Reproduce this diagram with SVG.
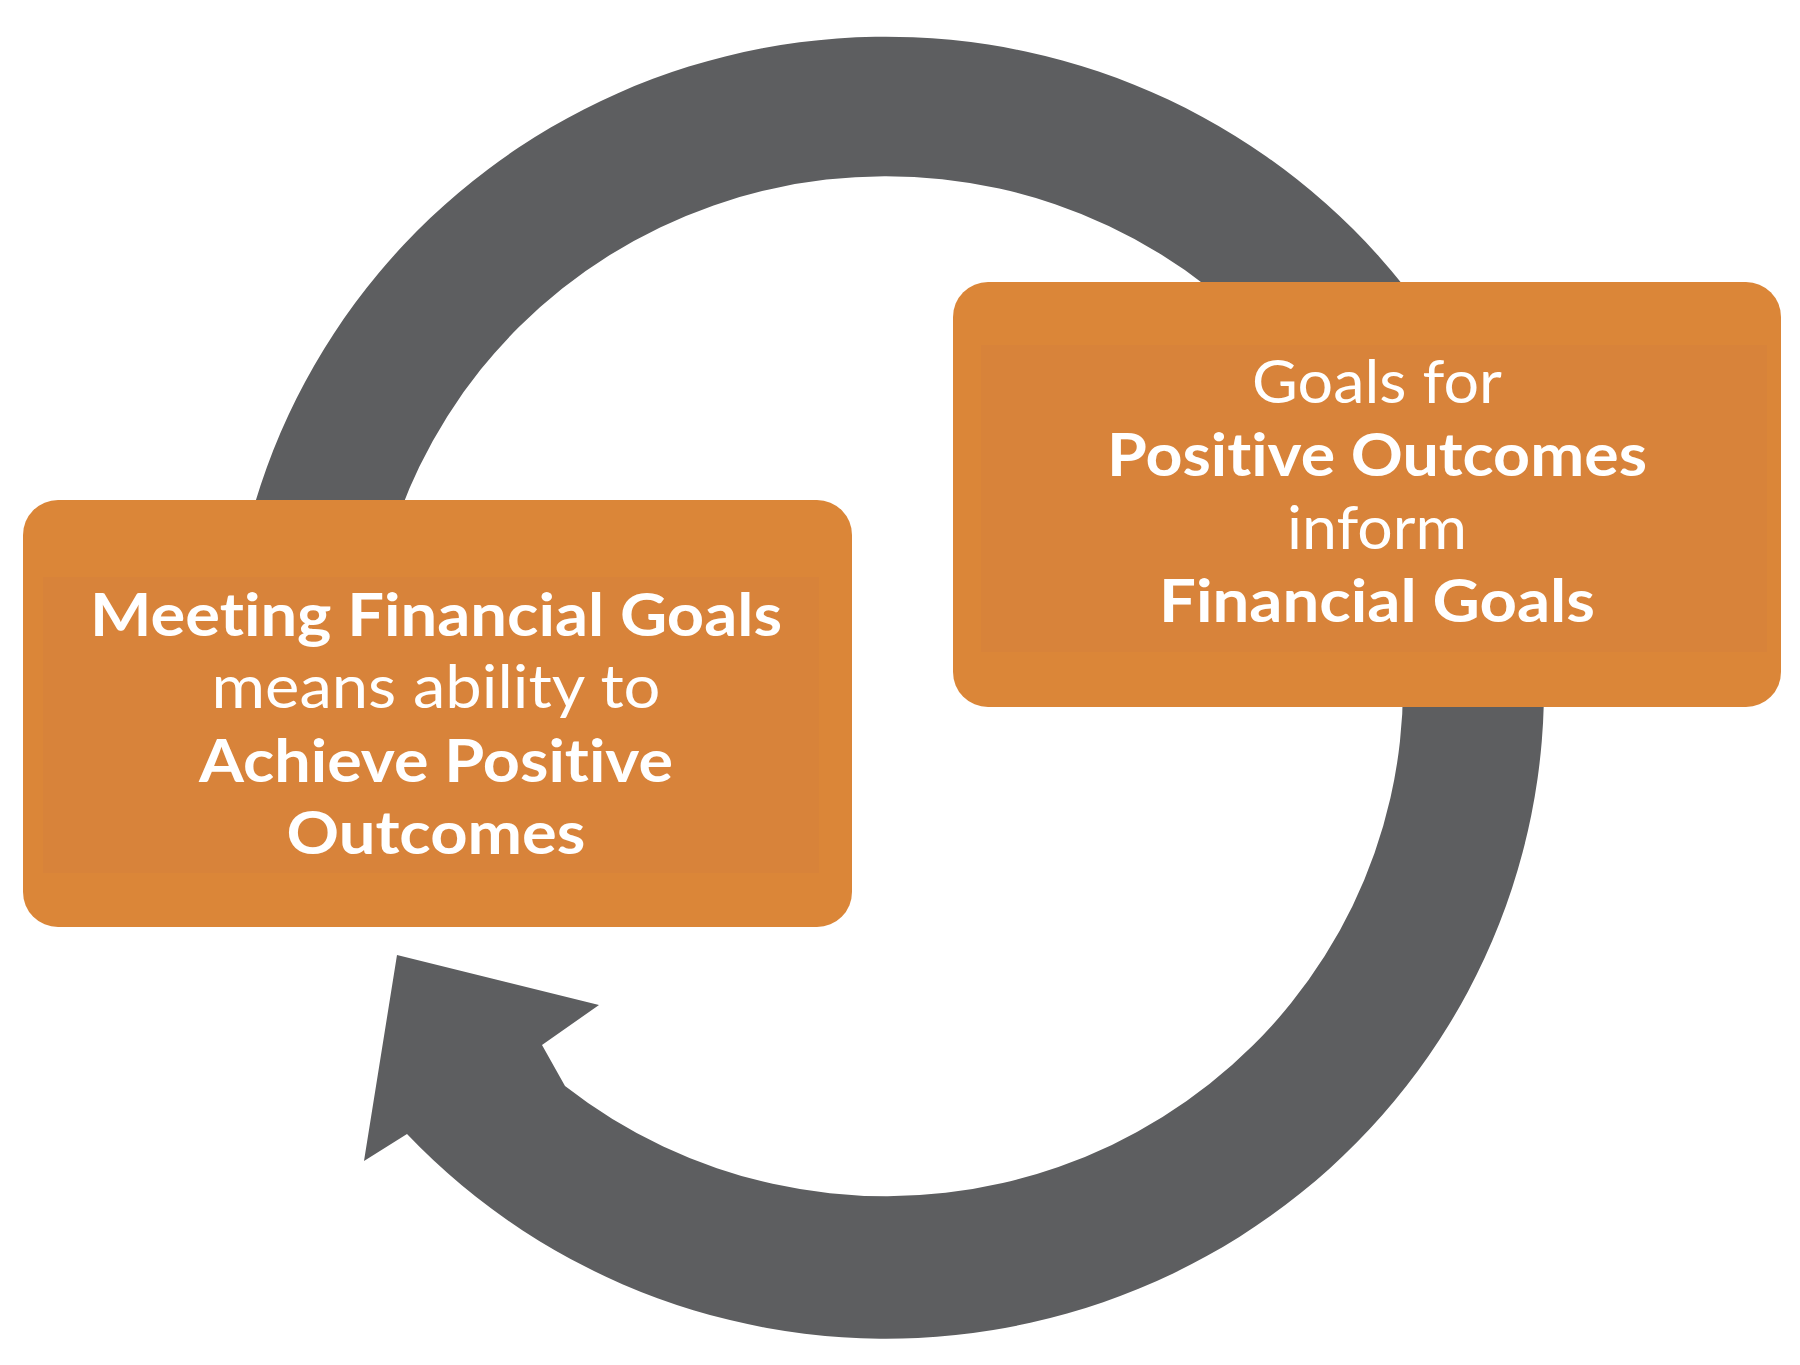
<svg xmlns="http://www.w3.org/2000/svg" width="1800" height="1365" viewBox="0 0 1800 1365">
  <style>
    .box { fill: #DB8638; }
    .inner { fill: #D8833A; }
    .t { font-family: Lato, "Open Sans", "Liberation Sans", sans-serif; font-size: 60px; fill: #FFFFFF; text-anchor: middle; font-variant-ligatures: none; font-feature-settings: "liga" 0, "clig" 0, "dlig" 0; }
    .b { font-weight: 700; }
    .r { font-weight: 400; }
    .ring { fill: #5D5E60; }
  </style>
  <rect width="1800" height="1365" fill="#FFFFFF"/>
  <g id="connectors">
    <path class="ring" d="M 228,688 A 658 651 0 1 1 407,1134 L 364,1161 L 397,955 L 599,1005 L 542,1045 L 565,1086 A 517 510 0 1 0 369,688 Z"/>
  </g>
  <g id="node-meeting">
    <rect class="box" x="23" y="500" width="829" height="427" rx="35" ry="35"/>
    <rect class="inner" x="43" y="577" width="776" height="296"/>
    <text class="t b" x="436" y="636" textLength="692" lengthAdjust="spacingAndGlyphs">Meeting Financial Goals</text>
    <text class="t r" x="436" y="708" textLength="449" lengthAdjust="spacingAndGlyphs">means ability to</text>
    <text class="t b" x="436" y="782" textLength="474" lengthAdjust="spacingAndGlyphs">Achieve Positive</text>
    <text class="t b" x="436" y="854" textLength="299" lengthAdjust="spacingAndGlyphs">Outcomes</text>
  </g>
  <g id="node-goals">
    <rect class="box" x="953" y="282" width="828" height="425" rx="35" ry="35"/>
    <rect class="inner" x="981" y="345" width="786" height="307"/>
    <text class="t r" x="1377" y="403" textLength="250" lengthAdjust="spacingAndGlyphs">Goals for</text>
    <text class="t b" x="1377" y="476" textLength="540" lengthAdjust="spacingAndGlyphs">Positive Outcomes</text>
    <text class="t r" x="1377" y="549" textLength="180" lengthAdjust="spacingAndGlyphs">inform</text>
    <text class="t b" x="1377" y="622" textLength="436" lengthAdjust="spacingAndGlyphs">Financial Goals</text>
  </g>
</svg>
